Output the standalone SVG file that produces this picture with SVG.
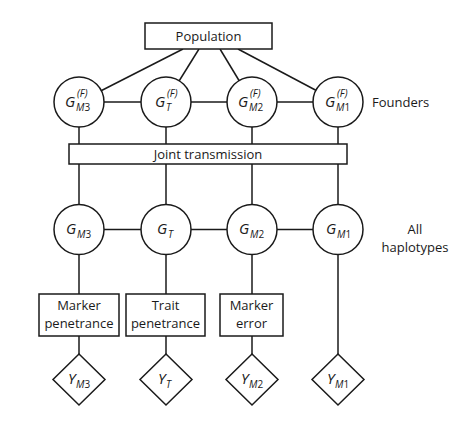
<svg xmlns="http://www.w3.org/2000/svg" width="474" height="428" viewBox="0 0 474 428">
<style>
.s{fill:#fff;stroke:#1a1a1a;stroke-width:1.5}
.l{stroke:#1a1a1a;stroke-width:1.5;fill:none}
text{font-family:"Open Sans","Liberation Sans",sans-serif;fill:#1a1a1a}
.t{font-size:13px;text-anchor:middle}
.g{font-size:15px;font-style:italic}
.sb{font-size:10px;font-style:italic}
.n{font-style:normal}
</style>
<rect width="474" height="428" fill="#fff"/>
<g id="connectors" class="l">
<line x1="183" y1="49" x2="79" y2="102"/>
<line x1="199" y1="49" x2="166" y2="102"/>
<line x1="220" y1="49" x2="252" y2="102"/>
<line x1="238" y1="49" x2="338" y2="102"/>
<line x1="79" y1="102" x2="338" y2="102"/>
<line x1="79" y1="229.5" x2="338" y2="229.5"/>
<line x1="79" y1="102" x2="79" y2="380"/>
<line x1="166" y1="102" x2="166" y2="380"/>
<line x1="252" y1="102" x2="252" y2="380"/>
<line x1="338" y1="102" x2="338" y2="380"/>
</g>
<g id="population"><rect class="s" x="145" y="23" width="127" height="26"/><text class="t" x="208.5" y="41">Population</text></g>
<g id="founderM3"><circle class="s" cx="79" cy="102" r="25"/><text class="g" x="65" y="107">G</text><text class="sb" x="76" y="111">M<tspan class="n">3</tspan></text><text class="sb" x="77" y="97">(F)</text></g>
<g id="founderT"><circle class="s" cx="166" cy="102" r="25"/><text class="g" x="155" y="107">G</text><text class="sb" x="166" y="111">T</text><text class="sb" x="167" y="97">(F)</text></g>
<g id="founderM2"><circle class="s" cx="252" cy="102" r="25"/><text class="g" x="238" y="107">G</text><text class="sb" x="249" y="111">M<tspan class="n">2</tspan></text><text class="sb" x="250" y="97">(F)</text></g>
<g id="founderM1"><circle class="s" cx="338" cy="102" r="25"/><text class="g" x="325" y="107">G</text><text class="sb" x="336" y="111">M<tspan class="n">1</tspan></text><text class="sb" x="337" y="97">(F)</text></g>
<g id="founders-label"><text x="372" y="107" style="font-size:13px">Founders</text></g>
<g id="joint"><rect class="s" x="69" y="144" width="278" height="20"/><text class="t" x="208" y="159">Joint transmission</text></g>
<g id="hapM3"><circle class="s" cx="79" cy="229.5" r="25"/><text class="g" x="66" y="234">G</text><text class="sb" x="77" y="238">M<tspan class="n">3</tspan></text></g>
<g id="hapT"><circle class="s" cx="166" cy="229.5" r="25"/><text class="g" x="157" y="234">G</text><text class="sb" x="168" y="238">T</text></g>
<g id="hapM2"><circle class="s" cx="252" cy="229.5" r="25"/><text class="g" x="239" y="234">G</text><text class="sb" x="250" y="238">M<tspan class="n">2</tspan></text></g>
<g id="hapM1"><circle class="s" cx="338" cy="229.5" r="25"/><text class="g" x="326" y="234">G</text><text class="sb" x="337" y="238">M<tspan class="n">1</tspan></text></g>
<g id="haplotypes-label"><text class="t" x="415" y="234">All</text><text class="t" x="415" y="252">haplotypes</text></g>
<g id="markerPen"><rect class="s" x="39" y="294" width="80" height="42"/><text class="t" x="79" y="310">Marker</text><text class="t" x="79" y="328">penetrance</text></g>
<g id="traitPen"><rect class="s" x="126" y="294" width="79" height="42"/><text class="t" x="165.5" y="310">Trait</text><text class="t" x="165.5" y="328">penetrance</text></g>
<g id="markerErr"><rect class="s" x="220" y="294" width="63" height="42"/><text class="t" x="251.5" y="310">Marker</text><text class="t" x="251.5" y="328">error</text></g>
<g id="YM3"><polygon class="s" points="79,354 105,379.5 79,405 53,379.5"/><text class="g" x="68" y="384">Y</text><text class="sb" x="76" y="388">M<tspan class="n">3</tspan></text></g>
<g id="YT"><polygon class="s" points="166,354 192,379.5 166,405 140,379.5"/><text class="g" x="158" y="384">Y</text><text class="sb" x="166" y="388">T</text></g>
<g id="YM2"><polygon class="s" points="252,354 278,379.5 252,405 226,379.5"/><text class="g" x="241" y="384">Y</text><text class="sb" x="249" y="388">M<tspan class="n">2</tspan></text></g>
<g id="YM1"><polygon class="s" points="338,354 364,379.5 338,405 312,379.5"/><text class="g" x="327" y="384">Y</text><text class="sb" x="335" y="388">M<tspan class="n">1</tspan></text></g>
</svg>
